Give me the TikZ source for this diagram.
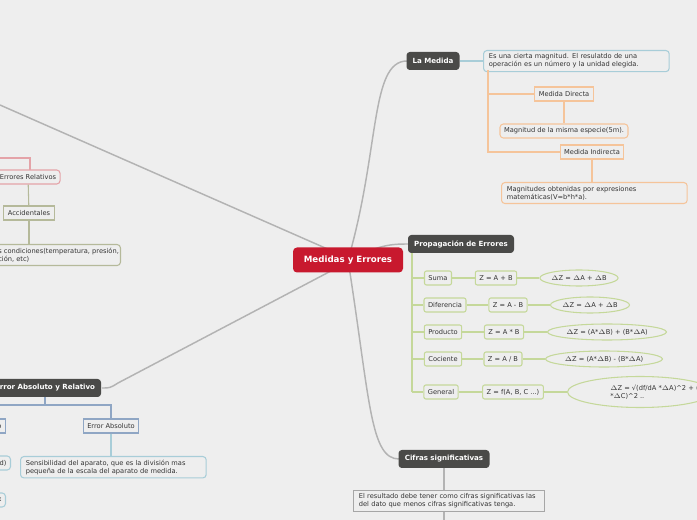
\documentclass[tikz,border=0pt]{standalone}
\usepackage{fontspec}
\setmainfont{DejaVu Sans}
\usetikzlibrary{shapes.geometric}
\AtBeginDocument{\hyphenpenalty=10000 \exhyphenpenalty=10000}
\definecolor{bg}{HTML}{EEEEEE}
\definecolor{dark}{HTML}{4A4A48}
\definecolor{mred}{HTML}{C8192E}
\definecolor{lblue}{HTML}{A8CDD8}
\definecolor{orng}{HTML}{F5C49A}
\definecolor{lgrn}{HTML}{C5D89A}
\definecolor{pink}{HTML}{E4A3A8}
\definecolor{olive}{HTML}{B5B99A}
\definecolor{bblue}{HTML}{8FA6C4}
\definecolor{gline}{HTML}{B3B3B3}
\begin{document}
\begin{tikzpicture}[x=0.75pt,y=-0.75pt,
  every node/.style={font=\fontsize{5}{6}\selectfont, text=black!80, inner sep=0pt},
  topic/.style={fill=dark, rounded corners=2.5pt, text=white, font=\fontsize{5.3}{6}\selectfont\bfseries, minimum height=13.5pt},
  sub/.style={draw=#1, fill=bg, line width=0.8pt, minimum height=10.5pt, inner xsep=3pt},
  rsub/.style={draw=#1, fill=bg, line width=0.8pt, rounded corners=2.5pt, minimum height=10.5pt, inner xsep=3pt},
  txt/.style={draw=#1, fill=bg, line width=0.8pt, rounded corners=2.5pt, align=left, inner xsep=4pt, inner ysep=2.5pt, anchor=north west},
  ell/.style={draw=lgrn, fill=bg, line width=0.8pt, ellipse, inner sep=0pt},
  main/.style={gline, line width=1.1pt},
]
\fill[bg] (0,0) rectangle (697,520);
\clip (0,0) rectangle (697,520);
% main connectors
\coordinate (lt) at (0,105);
\draw[main] (348,258) -- (lt);
\draw[main] (348,260) .. controls (380,150) and (370,61) .. (407,61);
\draw[main] (348,260) .. controls (380,245) and (390,244) .. (408,244);
\draw[main] (348,260) .. controls (370,400) and (370,459) .. (399,459);
\draw[main] (348,262) -- (118,383) .. controls (110,388) .. (102,388);

% La Medida
\node[topic, minimum width=53*0.75pt] (lm) at (433,61) {La Medida};
\node[txt=lblue, text width=175*0.75pt] (def) at (483,50) {Es una cierta magnitud. El resulatdo de una\\ operación es un número y la unidad elegida.};
\draw[lblue, line width=0.8pt] (lm.east) -- (def.west |- lm.east);
\node[sub=orng] (md) at (564,94) {Medida Directa};
\node[rsub=orng] (mm) at (564,131) {Magnitud de la misma especie(5m).};
\node[sub=orng] (mi) at (592,152) {Medida Indirecta};
\node[txt=orng, text width=175*0.75pt, minimum height=21*0.75pt] (mo) at (501,182) {Magnitudes obtenidas por expresiones\\ matemáticas(V=b*h*a).};
\coordinate (oc) at (488,70);
\draw[orng, line width=0.8pt] (oc) |- (mi.west);
\draw[orng, line width=0.8pt] (488,94) -- (md.west);
\draw[orng, line width=0.8pt] (md) -- (mm);
\draw[orng, line width=0.8pt] (mi.south) -- (mo.north -| mi.south);

% Propagacion
\node[topic, minimum width=106*0.75pt] (pe) at (461,244) {Propagación de Errores};
\coordinate (gv) at (412,253);
\draw[lgrn, line width=0.8pt] (gv) -- (412,392);
\foreach \n/\y/\a/\ax/\b/\bx/\c/\cx/\cw in {
  s/278/Suma/438/{Z = A + B}/496/{$\Delta$Z = $\Delta$A + $\Delta$B}/579/78,
  d/305/Diferencia/445/{Z = A - B}/508/{$\Delta$Z = $\Delta$A + $\Delta$B}/590/79,
  p/332/Producto/443/{Z = A * B}/504/{$\Delta$Z = (A*$\Delta$B) + (B*$\Delta$A)}/607/119,
  c/359/Cociente/443/{Z = A / B}/503/{$\Delta$Z = (A*$\Delta$B) - (B*$\Delta$A)}/604/117}{
  \node[sub=lgrn, rounded corners=1.5pt] (\n1) at (\ax,\y) {\a};
  \node[sub=lgrn, rounded corners=1.5pt] (\n2) at (\bx,\y) {\b};
  \node[ell, minimum width=\cw*0.75pt, minimum height=16*0.75pt] (\n3) at (\cx,\y) {\c};
  \draw[lgrn, line width=0.8pt] (412,\y) -- (\n1) -- (\n2) -- (\n3);
}
\node[sub=lgrn, rounded corners=1.5pt] (g1) at (441,392) {General};
\node[sub=lgrn, rounded corners=1.5pt] (g2) at (513,392) {Z = f(A, B, C ...)};
\node[ell, minimum width=145*0.75pt, minimum height=31*0.75pt] (g3) at (640,392) {};
\node[anchor=west, align=left] at (610,392) {$\Delta$Z = √(df/dA *$\Delta$A)\textasciicircum2 + (df/dB *$\Delta$B)\textasciicircum2 + (df/dC\\ *$\Delta$C)\textasciicircum2 ..};
\draw[lgrn, line width=0.8pt] (412,392) -- (g1) -- (g2) -- (g3);

% Cifras
\node[topic, minimum width=91*0.75pt] (cs) at (444,459) {Cifras significativas};
\node[txt=gray!70, text width=180*0.75pt, rounded corners=0pt] (cr) at (353,490) {El resultado debe tener como cifras significativas las\\ del dato que menos cifras significativas tenga.};
\coordinate (cb) at (444,520);
\draw[gline, line width=1pt] (cs) -- (cr.north -| cs);
\draw[gline, line width=1pt] (cr.south -| cs) -- (cb);

% Left side
\coordinate (pl) at (-5,158);
\draw[pink, line width=0.8pt] (pl) -- (30,158) -- (30,170);
\node[rsub=pink] (er) at (28,177) {Errores Relativos};
\node[sub=olive] (ac) at (29,213) {Accidentales};
\draw[olive, line width=0.8pt] (er) -- (ac);
\node[txt=olive, text width=205*0.75pt, anchor=north east, minimum height=21*0.75pt] (co) at (121,244) {};
\node[anchor=north west, align=left] at (-2,247.5) {s condiciones(temperatura, presión,\\ción, etc)};
\draw[olive, line width=0.8pt] (ac) -- (co.north -| ac);

\node[topic, minimum width=112*0.75pt] (ea) at (45,388) {Error Absoluto y Relativo};
\coordinate (bl) at (-5,405);
\draw[bblue, line width=0.8pt] (ea.south) -- (45,405);
\draw[bblue, line width=0.8pt] (bl) -- (111,405) -- (111,419);
\node[sub=bblue] (eab) at (111,426) {Error Absoluto};
\node[sub=bblue, anchor=east] (erl) at (6,426) {Error Relativo};
\draw[bblue, line width=0.8pt] (-5,405) -- (-5,419);
\node[txt=lblue, text width=175*0.75pt] (se) at (20,456) {Sensibilidad del aparato, que es la división mas\\ pequeña de la escala del aparato de medida.};
\draw[lblue, line width=0.8pt] (eab) -- (se.north -| eab);
\node[rsub=lblue, anchor=east] (lb1) at (11,463) {(unidad)};
\node[rsub=lblue, anchor=east, minimum height=14*0.75pt] (lb2) at (6,500) {xxxxxxxxxx};

% center
\node[fill=mred, rounded corners=3pt, text=white, font=\fontsize{6.5}{8}\selectfont\bfseries, minimum width=110*0.75pt, minimum height=25*0.75pt] (c) at (348,260) {Medidas y Errores};
\end{tikzpicture}
\end{document}
